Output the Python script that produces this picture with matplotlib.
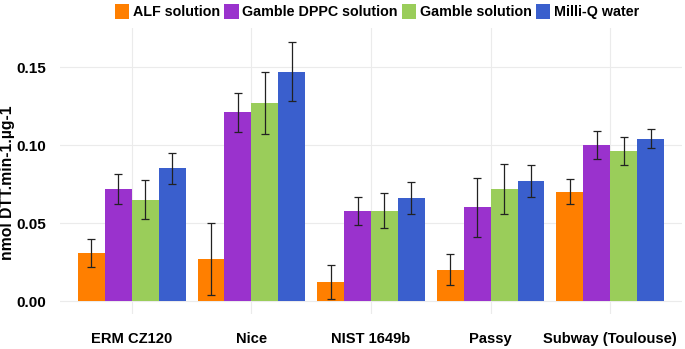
import matplotlib
matplotlib.use("Agg")
import matplotlib.pyplot as plt
import numpy as np

categories = ["ERM CZ120", "Nice", "NIST 1649b", "Passy", "Subway (Toulouse)"]
series = ["ALF solution", "Gamble DPPC solution", "Gamble solution", "Milli-Q water"]
alf = [0.031, 0.027, 0.012, 0.020, 0.070]
alf_err = [0.009, 0.023, 0.011, 0.010, 0.008]
dppc = [0.072, 0.121, 0.058, 0.060, 0.100]
dppc_err = [0.0097, 0.0125, 0.009, 0.019, 0.0087]
gamble = [0.065, 0.127, 0.058, 0.072, 0.096]
gamble_err = [0.0125, 0.020, 0.0115, 0.016, 0.009]
milliq = [0.085, 0.147, 0.066, 0.077, 0.104]
milliq_err = [0.010, 0.019, 0.010, 0.010, 0.006]
colors = ["#FF7F00", "#9A32CD", "#9ACD5A", "#3A5FCD"]
yticks = [0.00, 0.05, 0.10, 0.15]

plt.rcParams['font.family'] = ['Liberation Sans', 'DejaVu Sans']
plt.rcParams['font.weight'] = 'bold'

fig = plt.figure(figsize=(6.85, 3.49), dpi=100)
ax = fig.add_axes([60/685, (349-314)/349, (682-60)/685, (314-28)/349])

x = np.arange(len(categories))
w = 0.225
vals = [alf, dppc, gamble, milliq]
errs = [alf_err, dppc_err, gamble_err, milliq_err]
for i, (v, e, c, s) in enumerate(zip(vals, errs, colors, series)):
    pos = x + (i - 1.5) * w
    ax.bar(pos, v, width=w, color=c, label=s, zorder=2, edgecolor='none')
    ax.errorbar(pos, v, yerr=e, fmt='none', ecolor='#222222', elinewidth=0.9,
                capsize=3, capthick=0.9, zorder=3)

ax.set_xlim(-0.6, len(categories) - 1 + 0.6)
ax.set_ylim(-0.0083, 0.175)
ax.set_yticks(yticks)
ax.set_yticklabels([f"{t:.2f}" for t in yticks], fontsize=11, fontweight='bold')
ax.set_xticks(x)
ax.set_xticklabels(categories, fontsize=10.6, fontweight='bold')
ax.tick_params(axis='x', length=0, pad=13)
ax.tick_params(axis='y', length=0, pad=10)
ax.grid(True, color='#EBEBEB', linewidth=0.8, zorder=0)
ax.set_axisbelow(True)
for sp in ax.spines.values():
    sp.set_visible(False)
ax.set_ylabel("nmol DTT.min-1.µg-1", fontsize=11.3, fontweight='bold', labelpad=2)
ax.yaxis.set_label_coords(-0.072, 0.46)

fig.legend(loc='upper center', bbox_to_anchor=(377/685, 1.025), ncol=4, frameon=False,
           handlelength=1.0, handleheight=1.2, handletextpad=0.25,
           columnspacing=0.3, prop={'weight': 'bold', 'size': 10.3})

fig.savefig("out.png", dpi=100)
